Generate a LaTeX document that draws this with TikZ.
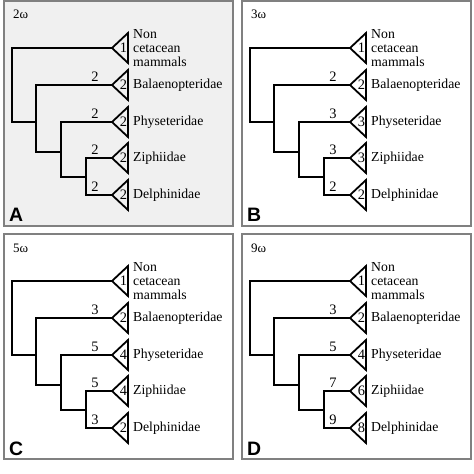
\documentclass[tikz,border=0pt]{standalone}
\usepackage{fontspec}
\setmainfont{Liberation Serif}
\setsansfont{Liberation Sans}
\usetikzlibrary{positioning}

\tikzset{
  branch/.style={line width=2bp, line cap=rect},
  clade/.style={line width=1.8bp, line join=miter},
  panelbox/.style={draw=black!50, line width=1.5bp},
  taxon/.style={anchor=west, inner sep=0pt, align=left, font=\fontsize{13.8}{14.3}\selectfont},
  num/.style={inner sep=0pt, font=\fontsize{14.5}{14.5}\selectfont},
}

% #1 panel letter, #2 omega, #3 fill, #4 clade sizes, #5 branch labels, #6 offset
\newcommand\whaletree[6]{%
\begin{scope}[shift={#6}]
\draw[panelbox, fill=#3] (0,0) rectangle (229,225);
\node[anchor=base west, inner sep=0pt, font=\fontsize{13}{13}\selectfont] (#1w) at (9,18) {#2ω};
\node[anchor=base west, inner sep=0pt, font=\sffamily\bfseries\fontsize{19.5}{19.5}\selectfont] (#1tag) at (5,221) {#1};
\coordinate (#1l1) at (108,47);
\coordinate (#1l2) at (108,84);
\coordinate (#1l3) at (108,121);
\coordinate (#1l4) at (108,157);
\coordinate (#1l5) at (108,194);
\coordinate (#1root) at (8,121);
\coordinate (#1n2) at (32,121);
\coordinate (#1n3) at (57,151);
\coordinate (#1n4) at (82,176);
\draw[branch] (#1l1) -| (#1root) -- (#1n2);
\draw[branch] (#1l2) -| (#1n2) |- (#1n3);
\draw[branch] (#1l3) -| (#1n3) |- (#1n4);
\draw[branch] (#1l4) -| (#1n4) |- (#1l5);
\foreach \n [count=\i] in {#4} {
  \draw[clade, fill=#3] (#1l\i) -- ++(16,-15) -- ++(0,30) -- cycle;
  \node[num] (#1c\i) at ([xshift=11.5bp]#1l\i) {\n};
}
\foreach \b [count=\i from 2] in {#5}
  \node[num, anchor=south] (#1b\i) at ([xshift=-17bp, yshift=3bp]#1l\i) {\b};
\node[taxon] (#1t1) at ([xshift=21bp]#1l1) {Non\\cetacean\\mammals};
\node[taxon] (#1t2) at ([xshift=21bp]#1l2) {Balaenopteridae};
\node[taxon] (#1t3) at ([xshift=21bp]#1l3) {Physeteridae};
\node[taxon] (#1t4) at ([xshift=21bp]#1l4) {Ziphiidae};
\node[taxon] (#1t5) at ([xshift=21bp]#1l5) {Delphinidae};
\end{scope}}

\begin{document}
\begin{tikzpicture}[x=1bp, y=-1bp]
\useasboundingbox[fill=white] (0,0) rectangle (474,474);
\whaletree{A}{2}{black!6}{1,2,2,2,2}{2,2,2,2}{(4,1)}
\whaletree{B}{3}{white}{1,2,3,3,2}{2,3,3,2}{(242,1)}
\whaletree{C}{5}{white}{1,2,4,4,2}{3,5,5,3}{(4,234)}
\whaletree{D}{9}{white}{1,2,4,6,8}{3,5,7,9}{(242,234)}
\end{tikzpicture}
\end{document}
